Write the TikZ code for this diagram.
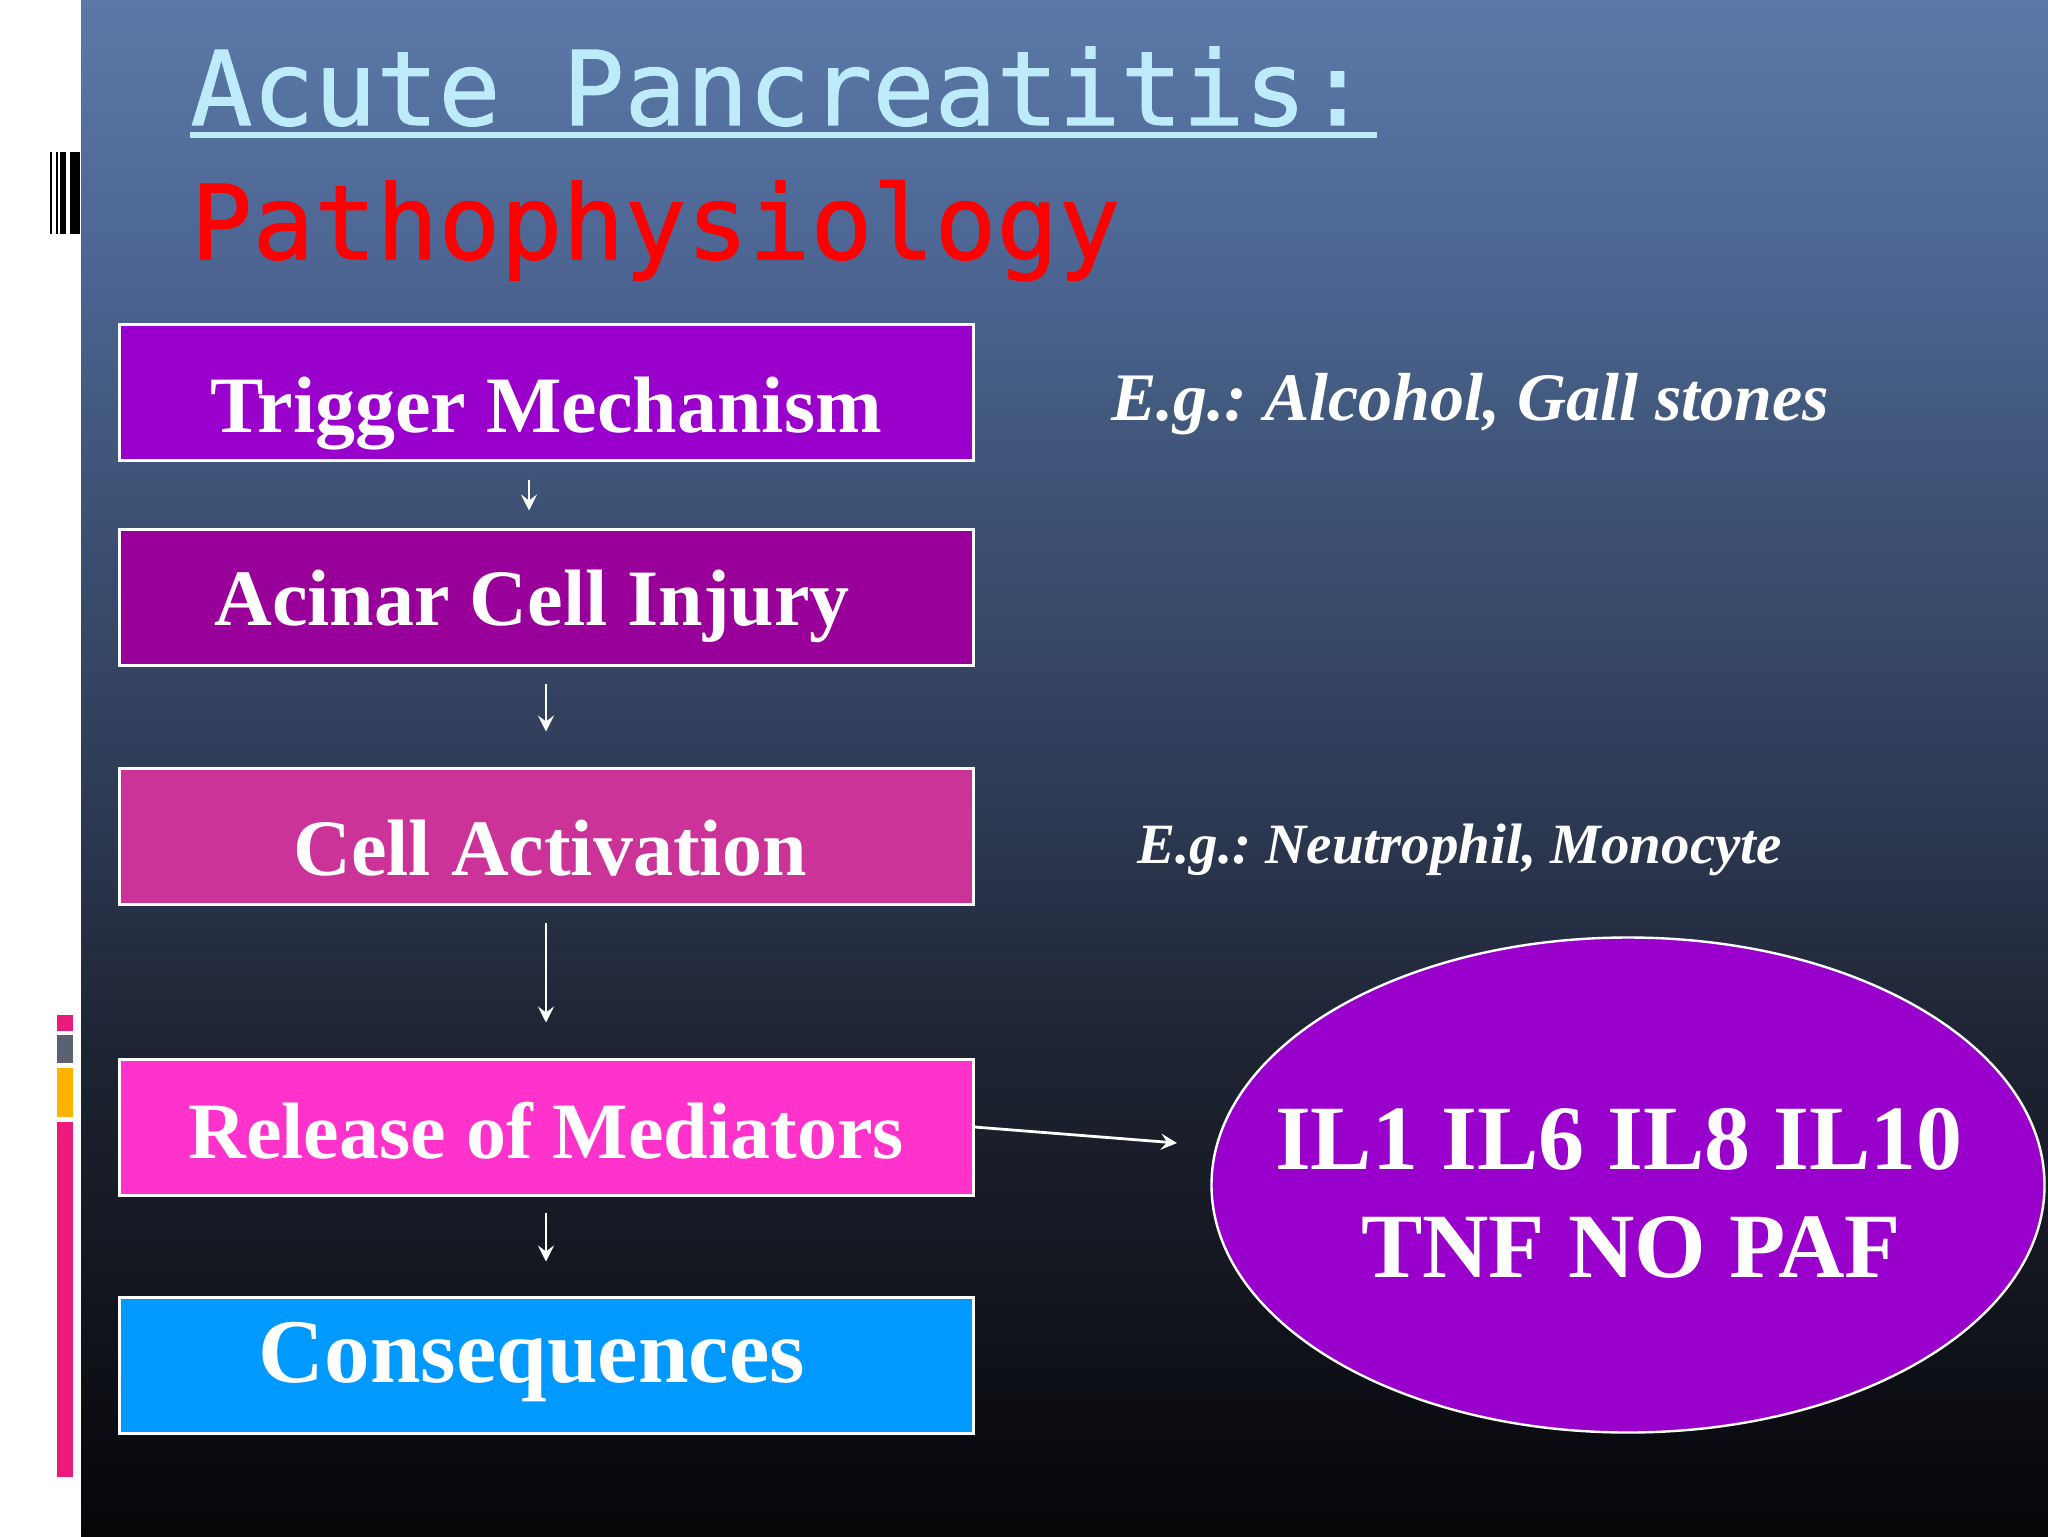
\documentclass[tikz,border=0pt]{standalone}
\usepackage{fontspec}
\setmainfont{Liberation Serif}
\newfontfamily\titlefont[UprightFeatures={FakeBold=1}]{DejaVu Sans Mono}
\usetikzlibrary{shapes.geometric,arrows.meta,calc}
\frenchspacing
\definecolor{bgA}{HTML}{5B79A8}
\definecolor{bgB}{HTML}{4B6391}
\definecolor{bgC}{HTML}{435A80}
\definecolor{bgD}{HTML}{2E3A55}
\definecolor{bgE}{HTML}{1E2433}
\definecolor{bgF}{HTML}{12151D}
\definecolor{bgG}{HTML}{050608}
\definecolor{titleblue}{HTML}{BDEBFA}
\definecolor{boxA}{HTML}{9900CC}
\definecolor{boxB}{HTML}{990099}
\definecolor{boxC}{HTML}{CC3399}
\definecolor{boxD}{HTML}{FF33CC}
\definecolor{boxE}{HTML}{0099FF}
\definecolor{ovalc}{HTML}{9900CC}
\definecolor{barpink}{HTML}{EB1A7C}
\definecolor{bargray}{HTML}{5A6272}
\definecolor{baryellow}{HTML}{FFB300}
\pgfdeclareverticalshading{bgshade}{100bp}{color(0bp)=(bgG); color(25bp)=(bgG); color(32.68bp)=(bgF); color(41.15bp)=(bgE); color(48.96bp)=(bgD); color(61.98bp)=(bgC); color(65.56bp)=(bgB); color(75bp)=(bgA); color(100bp)=(bgA)}
\begin{document}
\begin{tikzpicture}[x=0.5pt,y=-0.5pt,
  stagebox/.style={draw=white,line width=1.5pt,inner sep=0pt,minimum width=427pt,minimum height=68pt,text=white,font=\bfseries\fontsize{40pt}{48pt}\selectfont,text depth=0pt},
  arr/.style={draw=white,line width=1.4pt,-{Stealth[length=8pt,width=8pt,inset=3pt]}},
  egtext/.style={text=white,inner sep=0pt,anchor=base west},
  medtext/.style={text=white,inner sep=0pt,anchor=base,font=\bfseries\fontsize{46pt}{54pt}\selectfont},
  titletext/.style={inner sep=0pt,anchor=base west,font=\titlefont\fontsize{51.5pt}{60pt}\selectfont}]
\useasboundingbox (0,0) rectangle (2048,1536);
% background
\fill[white] (0,0) rectangle (2048,1536);
\shade[shading=bgshade] (81,0) rectangle (2048,1536);
% barcode
\fill[black] (50,152) rectangle (51.5,234);
\fill[black] (55.5,152) rectangle (57.5,234);
\fill[black] (60,152) rectangle (66,234);
\fill[black] (69.5,152) rectangle (80,234);
% colour bar
\fill[barpink] (57,1015) rectangle (73,1031);
\fill[bargray] (57,1035) rectangle (73,1063);
\fill[baryellow] (57,1068) rectangle (73,1117);
\fill[barpink] (57,1122) rectangle (73,1477);
% title
\node[titletext,text=titleblue] (title) at (190,125) {Acute Pancreatitis:};
\draw[titleblue,line width=3pt] ([yshift=-5pt]title.base west) -- ([xshift=4pt,yshift=-5pt]title.base east);
\node[titletext,text=red] (subtitle) at (190,259) {Pathophysiology};
% boxes
\node[stagebox,fill=boxA,text height=40pt] (b1) at (546,392) {Trigger Mechanism};
\node[stagebox,fill=boxB,text height=28pt] (b2) at (546,597) {\kern-7pt Acinar Cell Injury\kern7pt};
\node[stagebox,fill=boxC,text height=39pt] (b3) at (546,836) {\kern2pt Cell Activation\kern-2pt};
\node[stagebox,fill=boxD,text height=31pt] (b4) at (546,1127) {Release of Mediators};
\node[stagebox,fill=boxE,text height=17pt,font=\bfseries\fontsize{45.5pt}{52pt}\selectfont] (b5) at (546,1365) {\kern-7pt Consequences\kern7pt};
% examples
\node[egtext,font=\bfseries\itshape\fontsize{34pt}{40pt}\selectfont] (eg1) at (1111,420) {E.g.: Alcohol, Gall stones};
\node[egtext,font=\bfseries\itshape\fontsize{28.5pt}{34pt}\selectfont] (eg2) at (1137,863) {E.g.: Neutrophil, Monocyte};
% mediators oval
\node[ellipse,draw=white,line width=1.2pt,fill=ovalc,minimum width=416.5pt,minimum height=247.5pt,inner sep=0pt] (med) at (1628,1185) {};
\node[medtext] (med1) at (1619,1169) {IL1 IL6 IL8 IL10};
\node[medtext] (med2) at (1631,1277) {TNF NO PAF};
\coordinate (medend) at (1177,1143);
% arrows
\draw[arr] ([xshift=-8.5pt,yshift=-9pt]b1.south) -- ([xshift=-8.5pt,yshift=8.5pt]b2.north);
\draw[arr] ([yshift=-8.5pt]b2.south) -- ([yshift=17.5pt]b3.north);
\draw[arr] ([yshift=-8.5pt]b3.south) -- ([yshift=17.5pt]b4.north);
\draw[arr] ([yshift=-8pt]b4.south) -- ([yshift=17pt]b5.north);
\draw[arr] (b4.east) -- (medend);
\end{tikzpicture}
\end{document}
